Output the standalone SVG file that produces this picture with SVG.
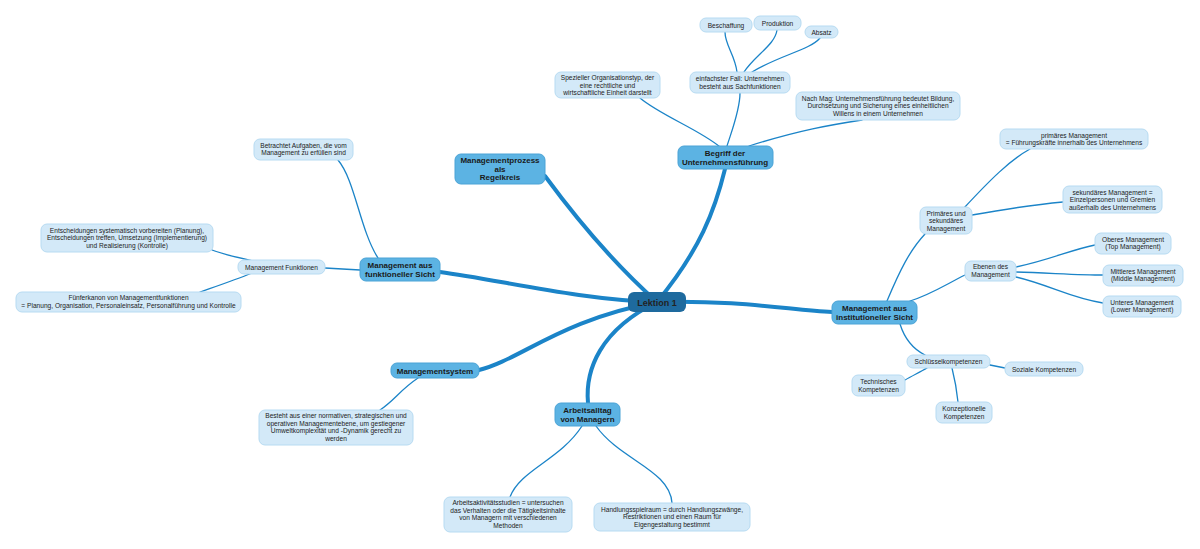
<svg xmlns="http://www.w3.org/2000/svg" width="1200" height="549" viewBox="0 0 1200 549">
<style>
.c{fill:none;stroke:#1b84c8;stroke-linecap:round}
.m{stroke-width:4}
.s{stroke-width:1.3}
.t{fill:#5cb3e3;stroke:#4aa3d6;stroke-width:1}
.l{fill:#d3e9f8;stroke:#b7dbf2;stroke-width:1}
text{font-family:"Liberation Sans",Arial,sans-serif;text-anchor:middle;fill:#222}
.tt{font-size:8px;font-weight:bold;fill:#1a1a1a}
.lt{font-size:6.6px}
</style>
<rect width="1200" height="549" fill="#fff"/>
<g id="connectors">
<path class="c m" d="M657 302 C700 250,715 210,725 169"/>
<path class="c m" d="M657 302 C610 260,570 210,545 176"/>
<path class="c m" d="M657 302 C580 300,500 280,440 272"/>
<path class="c m" d="M657 302 C740 300,790 310,832 312"/>
<path class="c m" d="M657 302 C560 320,520 360,479 370"/>
<path class="c m" d="M657 302 C600 330,585 370,588 403"/>
<path class="c s" d="M720 147 C700 130,660 115,640 98"/>
<path class="c s" d="M727 146 C732 130,740 110,740 93"/>
<path class="c s" d="M749 146 C800 130,830 125,862 120"/>
<path class="c s" d="M737 72 C735 55,725 45,725 32"/>
<path class="c s" d="M744 72 C755 55,775 45,777 30"/>
<path class="c s" d="M752 72 C780 55,810 50,820 38"/>
<path class="c s" d="M887 301 C900 270,910 250,925 234"/>
<path class="c s" d="M910 301 C930 295,945 285,965 275"/>
<path class="c s" d="M900 324 C905 340,915 350,925 355"/>
<path class="c s" d="M964 208 C990 180,1010 160,1030 149"/>
<path class="c s" d="M972 215 C1000 210,1030 205,1063 202"/>
<path class="c s" d="M1016 267 C1050 260,1070 250,1095 245"/>
<path class="c s" d="M1016 272 C1050 273,1080 275,1103 275"/>
<path class="c s" d="M1016 277 C1050 285,1070 298,1103 303"/>
<path class="c s" d="M990 365 L1005 368"/>
<path class="c s" d="M927 368 C920 372,912 376,905 380"/>
<path class="c s" d="M952 368 C955 380,957 392,958 402"/>
<path class="c s" d="M378 258 C360 230,355 180,338 160"/>
<path class="c s" d="M360 270 L325 268"/>
<path class="c s" d="M258 262 C240 258,225 255,212 250"/>
<path class="c s" d="M252 273 C235 280,220 285,200 292"/>
<path class="c s" d="M418 378 C400 390,395 400,380 410"/>
<path class="c s" d="M582 426 C560 460,520 470,510 497"/>
<path class="c s" d="M596 426 C620 460,670 470,672 503"/>
</g>
<g id="lektion"><rect x="628" y="292" width="58" height="20" rx="6" fill="#1e6a9e"/><text x="657" y="305.5" font-size="9" font-weight="bold" fill="#fff">Lektion 1</text></g>
<g id="begriff"><rect class="t" x="678" y="146" width="95" height="23" rx="6"/><text class="tt" x="725" y="156">Begriff der</text><text class="tt" x="725" y="165">Unternehmensführung</text></g>
<g id="regelkreis"><rect class="t" x="455" y="154" width="90" height="30" rx="6"/><text class="tt" x="500" y="163">Managementprozess</text><text class="tt" x="500" y="171.5">als</text><text class="tt" x="500" y="180">Regelkreis</text></g>
<g id="funktionell"><rect class="t" x="360" y="258" width="80" height="23" rx="6"/><text class="tt" x="400" y="268">Management aus</text><text class="tt" x="400" y="277">funktioneller Sicht</text></g>
<g id="institutionell"><rect class="t" x="832" y="301" width="85" height="23" rx="6"/><text class="tt" x="874.5" y="311">Management aus</text><text class="tt" x="874.5" y="320">institutioneller Sicht</text></g>
<g id="system"><rect class="t" x="391" y="363" width="88" height="15" rx="6"/><text class="tt" x="435" y="373.5">Managementsystem</text></g>
<g id="alltag"><rect class="t" x="555" y="403" width="65" height="23" rx="6"/><text class="tt" x="587.5" y="413">Arbeitsalltag</text><text class="tt" x="587.5" y="422">von Managern</text></g>
<g id="beschaffung"><rect class="l" x="700" y="18" width="52" height="14" rx="6"/><text class="lt" x="726" y="27.5">Beschaffung</text></g>
<g id="produktion"><rect class="l" x="754" y="16" width="47" height="14" rx="6"/><text class="lt" x="777.5" y="25.5">Produktion</text></g>
<g id="absatz"><rect class="l" x="805" y="26" width="33" height="12" rx="6"/><text class="lt" x="821.5" y="34.5">Absatz</text></g>
<g id="fall"><rect class="l" x="690" y="72" width="100" height="21" rx="6"/><text class="lt" x="740" y="81">einfachster Fall: Unternehmen</text><text class="lt" x="740" y="89">besteht aus Sachfunktionen</text></g>
<g id="spezieller"><rect class="l" x="555" y="72" width="105" height="26" rx="6"/><text class="lt" x="607.5" y="80">Spezieller Organisationstyp, der</text><text class="lt" x="607.5" y="87.5">eine rechtliche und</text><text class="lt" x="607.5" y="95">wirtschaftliche Einheit darstellt</text></g>
<g id="mag"><rect class="l" x="796" y="92" width="164" height="28" rx="6"/><text class="lt" x="878" y="100.5">Nach Mag: Unternehmensführung bedeutet Bildung,</text><text class="lt" x="878" y="108">Durchsetzung und Sicherung eines einheitlichen</text><text class="lt" x="878" y="115.5">Willens in einem Unternehmen</text></g>
<g id="primaer"><rect class="l" x="1000" y="129" width="148" height="20" rx="6"/><text class="lt" x="1074" y="137.5">primäres Management</text><text class="lt" x="1074" y="145">= Führungskräfte innerhalb des Unternehmens</text></g>
<g id="primsek"><rect class="l" x="920" y="207" width="52" height="27" rx="6"/><text class="lt" x="946" y="215.5">Primäres und</text><text class="lt" x="946" y="223">sekundäres</text><text class="lt" x="946" y="230.5">Management</text></g>
<g id="sekundaer"><rect class="l" x="1063" y="186" width="99" height="27" rx="6"/><text class="lt" x="1112.5" y="194.5">sekundäres Management  =</text><text class="lt" x="1112.5" y="202">Einzelpersonen und Gremien</text><text class="lt" x="1112.5" y="209.5">außerhalb des Unternehmens</text></g>
<g id="ebenen"><rect class="l" x="965" y="261" width="51" height="20" rx="6"/><text class="lt" x="990.5" y="269">Ebenen des</text><text class="lt" x="990.5" y="276.5">Management</text></g>
<g id="oberes"><rect class="l" x="1095" y="233" width="76" height="21" rx="6"/><text class="lt" x="1133" y="241.5">Oberes Management</text><text class="lt" x="1133" y="249">(Top Management)</text></g>
<g id="mittleres"><rect class="l" x="1103" y="265" width="80" height="21" rx="6"/><text class="lt" x="1143" y="273.5">Mittleres Management</text><text class="lt" x="1143" y="281">(Middle Management)</text></g>
<g id="unteres"><rect class="l" x="1103" y="296" width="78" height="21" rx="6"/><text class="lt" x="1142" y="304.5">Unteres Management</text><text class="lt" x="1142" y="312">(Lower Management)</text></g>
<g id="schluessel"><rect class="l" x="907" y="355" width="83" height="13" rx="6"/><text class="lt" x="948.5" y="364">Schlüsselkompetenzen</text></g>
<g id="soziale"><rect class="l" x="1005" y="362" width="78" height="14" rx="6"/><text class="lt" x="1044" y="371.5">Soziale Kompetenzen</text></g>
<g id="technisch"><rect class="l" x="852" y="375" width="53" height="21" rx="6"/><text class="lt" x="878.5" y="384">Technisches</text><text class="lt" x="878.5" y="391.5">Kompetenzen</text></g>
<g id="konzept"><rect class="l" x="936" y="402" width="56" height="21" rx="6"/><text class="lt" x="964" y="411">Konzeptionelle</text><text class="lt" x="964" y="418.5">Kompetenzen</text></g>
<g id="betrachtet"><rect class="l" x="254" y="139" width="99" height="21" rx="6"/><text class="lt" x="303.5" y="147.5">Betrachtet Aufgaben, die vom</text><text class="lt" x="303.5" y="155">Management zu erfüllen sind</text></g>
<g id="entscheidungen"><rect class="l" x="41" y="224" width="172" height="28" rx="6"/><text class="lt" x="127" y="232.5">Entscheidungen systematisch vorbereiten (Planung),</text><text class="lt" x="127" y="240">Entscheidungen treffen, Umsetzung (Implementierung)</text><text class="lt" x="127" y="247.5">und Realisierung (Kontrolle)</text></g>
<g id="funktionen"><rect class="l" x="238" y="260" width="87" height="14" rx="6"/><text class="lt" x="281.5" y="269.5">Management Funktionen</text></g>
<g id="fuenfer"><rect class="l" x="16" y="292" width="225" height="20" rx="6"/><text class="lt" x="128.5" y="300">Fünferkanon von Managementfunktionen</text><text class="lt" x="128.5" y="308">= Planung, Organisation, Personaleinsatz, Personalführung und Kontrolle</text></g>
<g id="besteht"><rect class="l" x="259" y="410" width="154" height="35" rx="6"/><text class="lt" x="336" y="418">Besteht aus einer normativen, strategischen und</text><text class="lt" x="336" y="425.5">operativen Managementebene, um gestiegener</text><text class="lt" x="336" y="433">Umweltkomplexität und -Dynamik gerecht zu</text><text class="lt" x="336" y="440.5">werden</text></g>
<g id="aktiv"><rect class="l" x="444" y="497" width="128" height="35" rx="6"/><text class="lt" x="508" y="505">Arbeitsaktivitätsstudien  = untersuchen</text><text class="lt" x="508" y="512.5">das Verhalten oder die Tätigkeitsinhalte</text><text class="lt" x="508" y="520">von Managern mit verschiedenen</text><text class="lt" x="508" y="527.5">Methoden</text></g>
<g id="handlung"><rect class="l" x="594" y="503" width="156" height="28" rx="6"/><text class="lt" x="672" y="511.5">Handlungsspielraum  = durch Handlungszwänge,</text><text class="lt" x="672" y="519">Restriktionen und einen Raum für</text><text class="lt" x="672" y="526.5">Eigengestaltung bestimmt</text></g>
</svg>
